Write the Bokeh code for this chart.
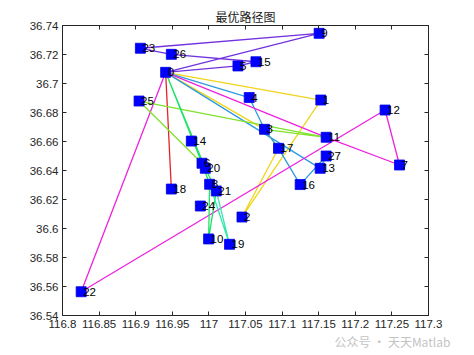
from bokeh.plotting import figure
from bokeh.models import LinearAxis, FixedTicker, Range1d, ColumnDataSource, Title, CustomLabelingPolicy
from bokeh.core.properties import value
from bokeh.embed import file_html
from bokeh.resources import INLINE

# ---- data ----
node_ids = list(range(28))
lon = [116.9409, 117.1529, 117.0452, 117.0760, 117.0551, 117.0397, 116.9906, 117.2604,
       117.0010, 117.1506, 116.9996, 117.1602, 117.2407, 117.1520, 116.9760, 117.0643,
       117.1247, 117.0951, 116.9487, 117.0282, 116.9951, 117.0101, 116.8255, 116.9064,
       116.9883, 116.9046, 116.9487, 117.1602]
lat = [36.7077, 36.6886, 36.6079, 36.6684, 36.6903, 36.7121, 36.6450, 36.6438,
       36.6305, 36.7346, 36.5928, 36.6629, 36.6817, 36.6415, 36.6603, 36.7150,
       36.6303, 36.6553, 36.6272, 36.5891, 36.6415, 36.6259, 36.5564, 36.7243,
       36.6155, 36.6879, 36.7201, 36.6500]
node_labels = [str(i) for i in node_ids]

routes = [
    [0, 9, 23, 26, 15, 5, 0],
    [0, 1, 2, 17, 3, 0],
    [0, 4, 3, 17, 16, 27, 13, 0],
    [0, 22, 12, 7, 11, 0],
    [0, 18, 0],
    [6, 25, 11, 3],
    [0, 6, 8, 10, 21, 20, 0],
    [8, 19, 21],
]
route_colors = ["#7232E0", "#F2D41A", "#2E9BE0", "#EE22DC", "#E62228",
                "#80E22C", "#22E268", "#38E6AE"]

x_ticks = [116.8, 116.85, 116.9, 116.95, 117.0, 117.05, 117.1, 117.15, 117.2, 117.25, 117.3]
x_tick_labels = ["116.8", "116.85", "116.9", "116.95", "117", "117.05", "117.1", "117.15",
                 "117.2", "117.25", "117.3"]
y_ticks = [36.54, 36.56, 36.58, 36.6, 36.62, 36.64, 36.66, 36.68, 36.7, 36.72, 36.74]
y_tick_labels = ["36.54", "36.56", "36.58", "36.6", "36.62", "36.64", "36.66", "36.68",
                 "36.7", "36.72", "36.74"]

title_text = "最优路径图"
watermark = "公众号 · 天天Matlab"

# ---- figure ----
p = figure(width=474, height=355, x_range=Range1d(116.8, 117.3), y_range=Range1d(36.54, 36.74),
           output_backend="svg", toolbar_location=None,
           min_border_left=62, min_border_right=46, min_border_top=25, min_border_bottom=40,
           background_fill_color="white", border_fill_color="white")
p.title.text = title_text
p.title.align = "center"
p.title.text_font = "Noto Sans CJK SC"
p.title.text_font_size = "12px"
p.title.text_font_style = "normal"
p.title.text_color = "#1a1a1a"
p.title.offset = 0
p.title.standoff = 2

p.xgrid.visible = False
p.ygrid.visible = False
p.outline_line_color = "#262626"
p.outline_line_width = 1
p.outline_line_alpha = 1

axis_color = "#262626"
hide_all = CustomLabelingPolicy(code="for (const i of indices) { indices.unset(i) } return indices")

def style_axis(ax, ticks, labels, show_labels):
    ax.ticker = FixedTicker(ticks=ticks)
    ax.major_label_overrides = {t: l for t, l in zip(ticks, labels)}
    ax.major_tick_in = 4
    ax.major_tick_out = 0
    ax.minor_tick_in = 0
    ax.minor_tick_out = 0
    ax.axis_line_color = axis_color
    ax.major_tick_line_color = axis_color
    ax.major_label_text_color = "#262626"
    ax.major_label_text_font = "Liberation Sans"
    if show_labels:
        ax.major_label_text_font_size = "11.5px"
        ax.major_label_standoff = 4
    else:
        ax.major_label_text_font_size = "0px"
        ax.major_label_standoff = 0
        ax.major_label_policy = hide_all

style_axis(p.xaxis[0], x_ticks, x_tick_labels, True)
style_axis(p.yaxis[0], y_ticks, y_tick_labels, True)
top_ax = LinearAxis()
right_ax = LinearAxis()
style_axis(top_ax, x_ticks, x_tick_labels, False)
style_axis(right_ax, y_ticks, y_tick_labels, False)
p.add_layout(top_ax, "above")
p.add_layout(right_ax, "right")

for route, color in zip(routes, route_colors):
    xs = [lon[i] for i in route]
    ys = [lat[i] for i in route]
    p.line(xs, ys, line_color=color, line_width=1.3)

src = ColumnDataSource(dict(lon=lon, lat=lat, label=node_labels))
p.scatter(x="lon", y="lat", source=src, marker="square", size=10,
          fill_color="#0000FF", line_color="#0000E0", line_width=0.8)
p.text(x="lon", y="lat", text="label", source=src, x_offset=2,
       text_align="left", text_baseline="middle",
       text_font=value("Liberation Sans"), text_font_size=value("11.5px"), text_color="#000000")

wm = Title(text=watermark, align="left", offset=272, text_font="Noto Sans CJK SC",
           text_font_size="12px", text_font_style="normal", text_color="#c4c4c4", standoff=0)
p.add_layout(wm, "below")

open("out.html", "w").write(file_html(p, INLINE))
